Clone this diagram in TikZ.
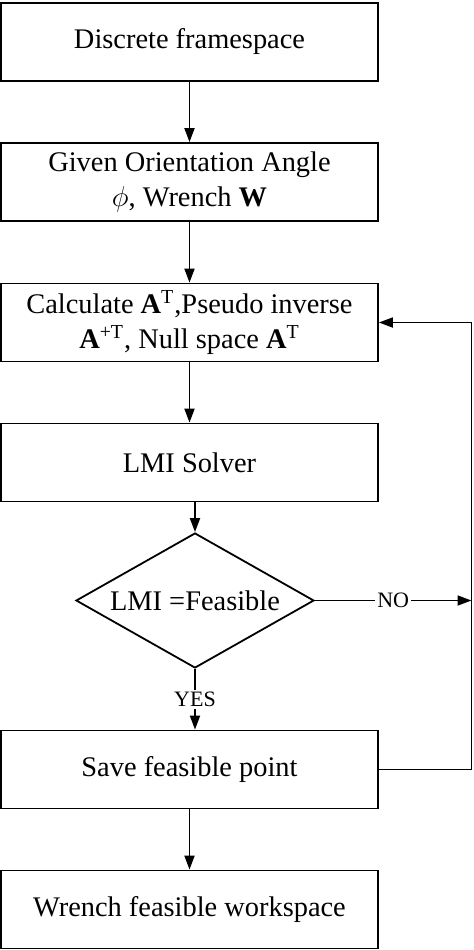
\documentclass[tikz,border=0pt]{standalone}
\usepackage{fontspec}
\setmainfont{Liberation Serif}
\usetikzlibrary{arrows.meta,positioning,shapes.geometric}

\begin{document}
\begin{tikzpicture}[x=0.5pt, y=-0.5pt, line width=0.9pt, >={Triangle[length=7pt,width=5pt]},
main box/.style={rectangle,draw,minimum width=188.5pt,minimum height=39pt,inner sep=0pt,align=center,font=\fontsize{14.2}{17.5}\selectfont},
main dia/.style={diamond,draw,aspect=1.76,minimum width=119pt,minimum height=67.5pt,inner sep=0pt,font=\fontsize{14.2}{17.5}\selectfont},
tag/.style={fill=white,inner sep=1pt,font=\fontsize{11}{13}\selectfont}]
\useasboundingbox (0,0) rectangle (474,950);
\begin{scope}
\node[main box] (b1) at (189.5,42) {Discrete framespace};
\node[main box] (b2) at (189.5,182) {Given Orientation Angle\\ $\phi$, Wrench $\mathbf{W}$};
\node[main box] (b3) at (189.5,322.5) {Calculate \textbf{A}\textsuperscript{T},Pseudo inverse\\ \textbf{A}\textsuperscript{+T}, Null space \textbf{A}\textsuperscript{T}};
\node[main box] (b4) at (189.5,462.5) {LMI Solver};
\node[main dia] (dia) at (195,600.5) {LMI =Feasible};
\node[main box] (b5) at (189.5,769.5) {Save feasible point};
\node[main box] (b6) at (189.5,909.5) {Wrench feasible workspace};
\coordinate (back) at (471.5,600.5);
\end{scope}
\begin{scope}
\draw[->] (b1) -- (b2);
\draw[->] (b2) -- (b3);
\draw[->] (b3) -- (b4);
\draw[->] (b4.south -| dia) -- (dia.north);
\draw[->] (dia.south) -- node[tag]{YES} (b5.north -| dia);
\draw[->] (b5) -- (b6);
\draw[->] (dia.east) -- node[tag]{NO} (back);
\draw[->] (b5.east) -| (back) |- (b3.east);
\end{scope}
\end{tikzpicture}
\end{document}
